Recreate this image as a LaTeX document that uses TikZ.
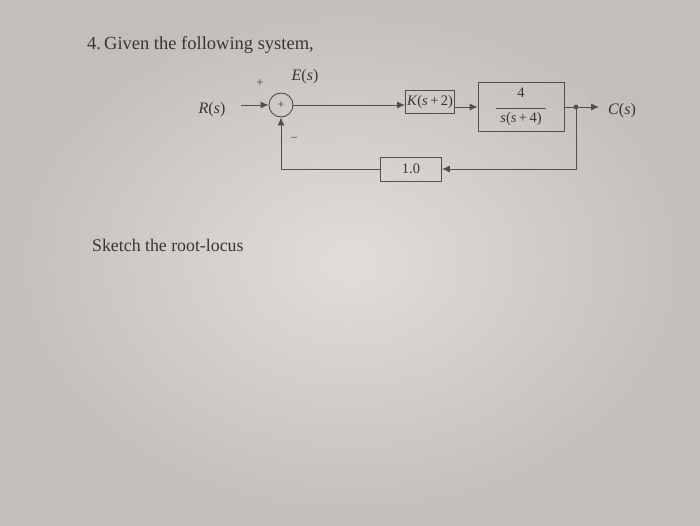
\documentclass[tikz,border=0pt]{standalone}
\usepackage{fontspec}
\setmainfont{Liberation Serif}
\usepackage{tikz}
\usetikzlibrary{shapes.geometric, arrows, arrows.meta}
\usetikzlibrary{positioning,calc}
\definecolor{paper}{RGB}{224,221,218}
\definecolor{paperdark}{RGB}{196,190,186}
\definecolor{ink}{RGB}{55,53,53}
\definecolor{wire}{RGB}{80,78,78}
\tikzstyle{block} = [rectangle, draw=wire, line width=0.9pt, inner sep=0pt, text=ink, font=\fontsize{14.5}{15}\selectfont]
\tikzstyle{arrow} = [line width=0.9pt, draw=wire, -{Latex[length=8pt,width=7pt]}]
\tikzstyle{wireline} = [line width=0.9pt, draw=wire]
\tikzstyle{lbl} = [text=ink, font=\fontsize{16}{17}\selectfont]
\newcommand{\si}[1]{\textit{#1}}

\begin{document}
\begin{tikzpicture}[x=1pt, y=-1pt]
            \shade[inner color=paper, outer color=paperdark] (0,0) rectangle (700,525);
            \useasboundingbox (0,0) rectangle (700,525);

            % headings
            \node[text=ink, anchor=base west, inner sep=0pt, font=\fontsize{18.5}{19}\selectfont] (title) at (87,49) {4.\,Given the following system,};
            \node[text=ink, anchor=base west, inner sep=0pt, font=\fontsize{17.8}{19}\selectfont] (task) at (92,251) {Sketch the root-locus};

            % summing junction and blocks
            \node[circle, draw=wire, line width=0.9pt, minimum size=24pt, inner sep=0pt, text=ink, font=\fontsize{12}{12}\selectfont] (sum) at (281,105) {+};
            \node[block, minimum width=49pt, minimum height=23pt] (ctrl) at (430,102) {\hspace*{-3pt}\si{K}(\si{s}\,+\,2)\hspace*{-3pt}};
            \node[block, minimum width=86pt, minimum height=49pt, align=center] (plant) at (521,107) {4\\[-4pt]{\color{wire}\rule{50pt}{0.7pt}}\\[-1pt]\si{s}(\si{s}\,+\,4)};
            \node[block, minimum width=61pt, minimum height=24pt] (fb) at (411,169) {1.0};

            % signal labels
            \node[lbl] (rin) at (212,110) {\si{R}(\si{s})};
            \node[lbl] (err) at (305,77) {\si{E}(\si{s})};
            \node[lbl] (cout) at (622,111) {\si{C}(\si{s})};
            \node[text=ink, font=\fontsize{12}{12}\selectfont] (plus) at (260,83) {+};
            \node[text=ink, font=\fontsize{12}{12}\selectfont] (minus) at (294,139) {--};

            \coordinate (rstart) at (241,105);
            \coordinate (tap) at (576,107);
            \coordinate (cend) at (599,107);
            \fill[wire] (tap) circle (2.4pt);

            \draw[arrow] (rstart) -- (sum.west);
            \draw[arrow] (sum.east) -- (ctrl.west |- sum.east);
            \draw[arrow] (ctrl.east |- plant.west) -- (plant.west);
            \draw[wireline] (plant.east) -- (tap);
            \draw[arrow] (tap) -- (cend);
            \draw[arrow] (tap) |- (fb.east);
            \draw[arrow] (fb.west) -| (sum.south);
\end{tikzpicture}
\end{document}
